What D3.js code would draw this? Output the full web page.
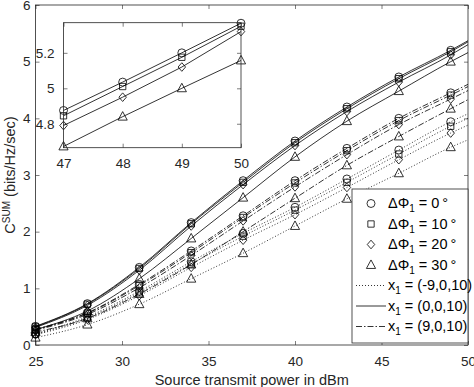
<!DOCTYPE html>
<html>
<head>
<meta charset="utf-8">
<script src="https://cdn.jsdelivr.net/npm/d3@7"></script>
<style>
  body { margin: 0; background: #fff; }
  svg { font-family: Arial, "Liberation Sans", sans-serif; }
</style>
</head>
<body>
<svg id="chart" width="474" height="387"></svg>
<script>
// transmit power (dBm) for the main plot, markers every 3 dB
const power = [25, 28, 31, 34, 37, 40, 43, 46, 49, 50];
const markerPower = [25, 28, 31, 34, 37, 40, 43, 46, 49];

// x1 = (0,0,10)  solid
const solid0  = [0.33, 0.73, 1.37, 2.16, 2.90, 3.60, 4.20, 4.73, 5.20, 5.37];
const solid10 = [0.32, 0.72, 1.35, 2.14, 2.87, 3.57, 4.17, 4.70, 5.175, 5.35];
const solid20 = [0.31, 0.70, 1.32, 2.10, 2.83, 3.52, 4.12, 4.64, 5.12, 5.30];
const solid30 = [0.27, 0.60, 1.17, 1.88, 2.60, 3.32, 3.95, 4.48, 5.00, 5.16];

// x1 = (9,0,10)  dash-dot
const dashdot0  = [0.28, 0.57, 1.07, 1.66, 2.28, 2.90, 3.47, 4.00, 4.45, 4.60];
const dashdot10 = [0.27, 0.56, 1.05, 1.63, 2.25, 2.86, 3.43, 3.96, 4.41, 4.56];
const dashdot20 = [0.26, 0.54, 1.01, 1.58, 2.19, 2.79, 3.36, 3.89, 4.34, 4.49];
const dashdot30 = [0.23, 0.47, 0.90, 1.42, 2.00, 2.59, 3.17, 3.68, 4.17, 4.33];

// x1 = (-9,0,10)  dotted
const dotted0  = [0.20, 0.50, 0.95, 1.47, 1.97, 2.43, 2.93, 3.44, 3.94, 4.08];
const dotted10 = [0.19, 0.48, 0.92, 1.43, 1.92, 2.38, 2.87, 3.37, 3.86, 4.00];
const dotted20 = [0.18, 0.45, 0.87, 1.37, 1.85, 2.30, 2.78, 3.27, 3.74, 3.88];
const dotted30 = [0.13, 0.36, 0.72, 1.17, 1.62, 2.10, 2.58, 3.03, 3.49, 3.62];

// inset (zoom of the solid curves, 47-50 dBm)
const insetPower = [47, 48, 49, 50];
const inset0  = [4.875, 5.035, 5.20, 5.367];
const inset10 = [4.845, 5.010, 5.175, 5.35];
const inset20 = [4.790, 4.950, 5.120, 5.32];
const inset30 = [4.672, 4.840, 5.000, 5.157];

const xTicks = [25, 30, 35, 40, 45, 50];
const yTicks = [0, 1, 2, 3, 4, 5, 6];
const insetXTicks = [47, 48, 49, 50];
const insetYTicks = [4.8, 5, 5.2];

const phaseLabels = ['0', '10', '20', '30'];
const positionLabels = ['(-9,0,10)', '(0,0,10)', '(9,0,10)'];

const ink = '#262626';
const font = 13.5;
const legendFont = 14.5;

// marker shapes, open like MATLAB markers
const diamond = {
  draw(ctx, size) {
    const r = Math.sqrt(size / 2);
    ctx.moveTo(0, -r * 1.15); ctx.lineTo(r, 0); ctx.lineTo(0, r * 1.15); ctx.lineTo(-r, 0); ctx.closePath();
  }
};
const triangle = {
  draw(ctx, size) {
    const r = Math.sqrt(size) / 1.6;
    ctx.moveTo(0, -r * 1.1); ctx.lineTo(r, r * 0.75); ctx.lineTo(-r, r * 0.75); ctx.closePath();
  }
};
const shapes = [
  d3.symbol(d3.symbolCircle, 50),
  d3.symbol(d3.symbolSquare, 40),
  d3.symbol(diamond, 28),
  d3.symbol(triangle, 54)
];

const dashStyles = { dotted: '1,2', solid: null, dashdot: '6,2,1.5,2' };

const mainSeries = [
  ...[dotted0, dotted10, dotted20, dotted30].map((v, i) => ({ values: v, phase: i, style: 'dotted' })),
  ...[dashdot0, dashdot10, dashdot20, dashdot30].map((v, i) => ({ values: v, phase: i, style: 'dashdot' })),
  ...[solid0, solid10, solid20, solid30].map((v, i) => ({ values: v, phase: i, style: 'solid' }))
];
const insetSeries = [inset0, inset10, inset20, inset30].map((v, i) => ({ values: v, phase: i }));

const svg = d3.select('#chart');

// ---- main axes ----
const x = d3.scaleLinear().domain([25, 50]).range([35.5, 468]);
const y = d3.scaleLinear().domain([0, 6]).range([345, 5]);

function drawFrame(g, xs, ys, xt, yt, padX, padY) {
  const [x0, x1] = xs.range();
  const [y0, y1] = ys.range();
  const axes = [
    [d3.axisBottom(xs).tickValues(xt).tickSize(-4).tickPadding(padX).tickFormat(d => d), `translate(0,${y0})`],
    [d3.axisTop(xs).tickValues(xt).tickSize(-4).tickFormat(''), `translate(0,${y1})`],
    [d3.axisLeft(ys).tickValues(yt).tickSize(-4).tickPadding(padY).tickFormat(d => d), `translate(${x0},0)`],
    [d3.axisRight(ys).tickValues(yt).tickSize(-4).tickFormat(''), `translate(${x1},0)`]
  ];
  axes.forEach(([ax, tr]) => {
    const a = g.append('g').attr('transform', tr).call(ax)
      .attr('font-family', null).attr('font-size', null);
    a.select('.domain').remove();
    a.selectAll('line').attr('stroke', ink).attr('stroke-width', 0.6);
    a.selectAll('text').attr('fill', ink).style('font-size', font + 'px');
  });
  g.append('rect')
    .attr('x', x0).attr('y', y1)
    .attr('width', x1 - x0).attr('height', y0 - y1)
    .attr('fill', 'none').attr('stroke', ink).attr('stroke-width', 0.8);
}

const mainG = svg.append('g');
drawFrame(mainG, x, y, xTicks, yTicks, 11, 5);

const line = d3.line()
  .x((d, i) => x(power[i]))
  .y(d => y(d))
  .curve(d3.curveMonotoneX);

mainG.selectAll('.curve')
  .data(mainSeries)
  .join('path')
  .attr('class', 'curve')
  .attr('d', d => line(d.values))
  .attr('fill', 'none')
  .attr('stroke', '#000')
  .attr('stroke-width', 0.8)
  .attr('stroke-dasharray', d => dashStyles[d.style]);

mainSeries.forEach(s => {
  mainG.selectAll(null)
    .data(markerPower.map((p, i) => [p, s.values[i]]))
    .join('path')
    .attr('transform', d => `translate(${x(d[0])},${y(d[1])})`)
    .attr('d', shapes[s.phase])
    .attr('fill', 'none')
    .attr('stroke', '#000')
    .attr('stroke-width', 0.8);
});

// axis titles
svg.append('text')
  .attr('x', (x(25) + x(50)) / 2).attr('y', 385)
  .attr('text-anchor', 'middle')
  .attr('fill', ink)
  .style('font-size', '14.5px')
  .text('Source transmit power in dBm');

const yTitle = svg.append('text')
  .attr('transform', `translate(15,${(y(0) + y(6)) / 2}) rotate(-90)`)
  .attr('text-anchor', 'middle')
  .attr('fill', ink)
  .style('font-size', '14.5px');
yTitle.append('tspan').text('C');
yTitle.append('tspan').attr('dy', -5).style('font-size', '10px').text('SUM');
yTitle.append('tspan').attr('dy', 5).text(' (bits/Hz/sec)');

// ---- inset ----
const ix = d3.scaleLinear().domain([47, 50]).range([63.5, 241]);
const iy = d3.scaleLinear().domain([4.665, 5.37]).range([147.7, 22.7]);

const insetG = svg.append('g');
insetG.append('rect')
  .attr('x', 63.5).attr('y', 22.7)
  .attr('width', 241 - 63.5).attr('height', 147.7 - 22.7)
  .attr('fill', '#fff');

const iline = d3.line()
  .x((d, i) => ix(insetPower[i]))
  .y(d => iy(d));

insetG.selectAll('.icurve')
  .data(insetSeries)
  .join('path')
  .attr('class', 'icurve')
  .attr('d', d => iline(d.values))
  .attr('fill', 'none')
  .attr('stroke', '#000')
  .attr('stroke-width', 0.8);

insetSeries.forEach(s => {
  insetG.selectAll(null)
    .data(insetPower.map((p, i) => [p, s.values[i]]))
    .join('path')
    .attr('transform', d => `translate(${ix(d[0])},${iy(d[1])})`)
    .attr('d', shapes[s.phase])
    .attr('fill', 'none')
    .attr('stroke', '#000')
    .attr('stroke-width', 0.8);
});

drawFrame(insetG, ix, iy, insetXTicks, insetYTicks, 11, 9);

// ---- legend ----
const leg = svg.append('g');
const legX = 352, legY = 189, legW = 116, legH = 154;
leg.append('rect')
  .attr('x', legX).attr('y', legY)
  .attr('width', legW).attr('height', legH)
  .attr('fill', '#fff').attr('stroke', ink).attr('stroke-width', 0.8);

const rowY = i => 203.5 + i * 20.5;

function labelWithSub(g, yy, main, rest) {
  const t = g.append('text')
    .attr('x', 388).attr('y', yy + 4.5)
    .attr('fill', '#000')
    .style('font-size', legendFont + 'px');
  t.append('tspan').text(main);
  t.append('tspan').attr('dy', 4).style('font-size', '10px').text('1');
  t.append('tspan').attr('dy', -4).text(rest);
}

phaseLabels.forEach((p, i) => {
  leg.append('path')
    .attr('transform', `translate(371,${rowY(i)})`)
    .attr('d', shapes[i])
    .attr('fill', 'none').attr('stroke', '#000').attr('stroke-width', 0.8);
  labelWithSub(leg, rowY(i), '\u0394\u03A6', ` = ${p}\u2009\u00B0`);
});

const legendStyles = ['dotted', 'solid', 'dashdot'];
positionLabels.forEach((p, i) => {
  const yy = rowY(i + 4);
  leg.append('line')
    .attr('x1', 356).attr('x2', 386).attr('y1', yy).attr('y2', yy)
    .attr('stroke', '#000').attr('stroke-width', 0.8)
    .attr('stroke-dasharray', dashStyles[legendStyles[i]]);
  labelWithSub(leg, yy, 'x', ` = ${p}`);
});
</script>
</body>
</html>
